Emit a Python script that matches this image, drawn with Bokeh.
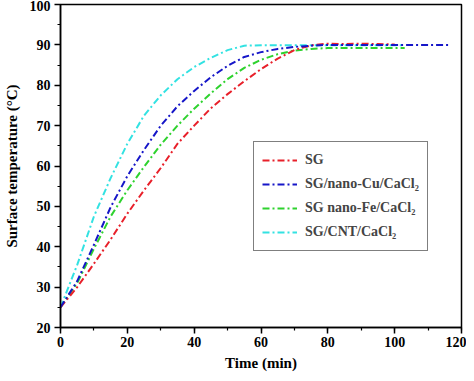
from bokeh.plotting import figure
from bokeh.embed import file_html
from bokeh.resources import INLINE
from bokeh.models import SingleIntervalTicker, Range1d

# ---- data ----
t_sg = [0, 5, 10, 15, 20, 25, 30, 35, 40, 45, 50, 55, 60, 65, 70, 75, 80, 85, 90, 95, 100]
T_sg = [25, 30.0, 35.8, 41.8, 48.2, 54.0, 59.5, 65.5, 70.0, 74.3, 77.8, 81.0, 84.0, 86.6, 88.7,
        89.9, 90.3, 90.2, 90.3, 90.2, 90.1]

t_cu = [0, 5, 10, 15, 20, 25, 30, 35, 40, 45, 50, 55, 60, 65, 70, 75, 80, 85, 90, 95, 100, 105, 110, 116]
T_cu = [25, 31.5, 40.5, 49.8, 57.5, 64.0, 70.0, 74.8, 78.6, 82.0, 84.8, 87.0, 88.2, 89.0, 89.5,
        89.8, 90.0, 90.0, 90.0, 90.0, 90.0, 90.0, 90.0, 90.0]

t_fe = [0, 5, 10, 15, 20, 25, 30, 35, 40, 45, 50, 55, 60, 65, 70, 75, 80, 85, 90, 95, 100, 103]
T_fe = [25, 31.0, 39.5, 47.5, 54.0, 59.8, 65.3, 70.0, 74.2, 78.0, 81.5, 84.3, 86.3, 87.7, 88.6,
        89.0, 89.2, 89.2, 89.2, 89.2, 89.2, 89.2]

t_cnt = [0, 5, 10, 15, 20, 25, 30, 35, 40, 45, 50, 55, 60, 65, 70, 75, 80, 85, 90, 95, 100, 103]
T_cnt = [25, 35.5, 47.5, 57.0, 65.5, 72.5, 77.5, 81.5, 84.5, 86.8, 88.7, 89.8, 89.9, 89.9, 89.9,
         89.9, 89.9, 89.9, 89.9, 89.9, 89.9, 89.9]

labels = ["SG", "SG/nano-Cu/CaCl\u2082", "SG nano-Fe/CaCl\u2082", "SG/CNT/CaCl\u2082"]
colors = ["#e8202a", "#1616c8", "#2ed22e", "#33e2e2"]

FONT = "Liberation Serif"

p = figure(width=466, height=373, output_backend="svg", toolbar_location=None,
           x_range=Range1d(0, 120), y_range=Range1d(20, 100),
           min_border_left=58, min_border_right=5, min_border_top=4, min_border_bottom=42)
p.grid.visible = False
p.background_fill_color = "white"
p.border_fill_color = "white"
p.outline_line_color = "black"
p.outline_line_width = 1.5

dash = "7 3 2 3"
order = [3, 2, 0, 1]
series = [(t_sg, T_sg), (t_cu, T_cu), (t_fe, T_fe), (t_cnt, T_cnt)]
for i in order:
    xs, ys = series[i]
    p.line(xs, ys, line_color=colors[i], line_width=2, line_dash=dash,
           legend_label=labels[i])

legend = p.legend[0]
items = {it.label.value: it for it in legend.items}
legend.items = [items[l] for l in labels]

p.xaxis.ticker = SingleIntervalTicker(interval=20, num_minor_ticks=2)
p.yaxis.ticker = SingleIntervalTicker(interval=10, num_minor_ticks=2)

for ax in (p.xaxis[0], p.yaxis[0]):
    ax.axis_line_width = 1.5
    ax.axis_line_color = "black"
    ax.major_tick_line_width = 1.5
    ax.minor_tick_line_width = 1.2
    ax.major_tick_out = 6
    ax.major_tick_in = 0
    ax.minor_tick_out = 3
    ax.minor_tick_in = 0
    ax.major_label_text_font = FONT
    ax.major_label_text_font_style = "bold"
    ax.major_label_text_font_size = "14px"
    ax.major_label_text_color = "black"
    ax.axis_label_text_font = FONT
    ax.axis_label_text_font_style = "bold"
    ax.axis_label_text_font_size = "15px"
    ax.axis_label_text_color = "black"

p.xaxis.axis_label = "Time (min)"
p.yaxis.axis_label = "Surface temperature (\u00b0C)"
p.xaxis.major_label_standoff = 3
p.xaxis.axis_label_standoff = 5
p.yaxis.major_label_standoff = 4
p.yaxis.axis_label_standoff = 7

legend.location = (193, 76)
legend.border_line_color = "black"
legend.border_line_width = 1.5
legend.background_fill_alpha = 1
legend.label_text_font = FONT
legend.label_text_font_style = "bold"
legend.label_text_font_size = "14px"
legend.glyph_width = 35
legend.glyph_height = 20
legend.label_height = 20
legend.label_standoff = 8
legend.spacing = 4
legend.padding = 8
legend.margin = 0

open("out.html", "w").write(file_html(p, INLINE))
